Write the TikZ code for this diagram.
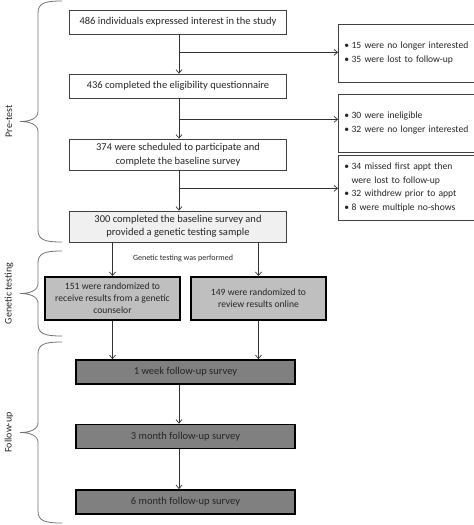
\documentclass[tikz,border=0pt]{standalone}
\usepackage{fontspec}
\setmainfont{Carlito}
\usetikzlibrary{arrows.meta,calc,positioning}

\begin{document}
\begin{tikzpicture}[
    x=1pt, y=-1pt,
    >={Straight Barb[length=3.5pt,width=6pt]},
    font=\fontsize{10.5}{13.5}\selectfont,
    flow/.style={draw=black!80,line width=0.7pt,->},
    stagebox/.style={draw=black!75,line width=0.7pt,minimum width=217pt,
        align=center,inner sep=2pt,text=black!85},
    exitbox/.style={draw=black!75,line width=0.7pt,anchor=west,minimum height=58pt,
        text width=140pt,inner xsep=6pt,align=left,text=black!85,
        font=\fontsize{9.6}{13.5}\selectfont},
    armbox/.style={draw=black,line width=2pt,fill=black!25,minimum width=135pt,
        minimum height=43pt,align=center,inner sep=2pt,text=black!85,
        font=\fontsize{9.6}{12}\selectfont},
    surveybox/.style={draw=black,line width=1.8pt,fill=black!50,minimum width=219pt,
        minimum height=24pt,text=black!85},
    stagebrace/.style={draw=black!55,line width=0.8pt},
    stagelabel/.style={rotate=90,text=black!85,font=\fontsize{10}{12}\selectfont}
]

\useasboundingbox (0,0) rectangle (474,525);
\clip (0,0) rectangle (474,525);

% spine of the main column
\coordinate (spine) at (179,0);

% ===== Pre-test =====
\node[stagebox,minimum height=24pt] (interest) at (178,22)
    {486 individuals expressed interest in the study};
\node[stagebox,minimum height=24pt] (eligible) at (178,86)
    {436 completed the eligibility questionnaire};
\node[stagebox,minimum height=31pt] (scheduled) at (178,154.5)
    {374 were scheduled to participate and\\complete the baseline survey};
\node[stagebox,minimum height=31pt,fill=black!6] (sample) at (178,226.5)
    {300 completed the baseline survey and\\provided a genetic testing sample};

% exclusions
\node[exitbox] (dropA) at (338,53)
    {\begin{tabular}{@{}l@{\hspace{2.5pt}}l@{}}
     \textbullet & 15 were no longer interested\\
     \textbullet & 35 were lost to follow-up
     \end{tabular}};
\node[exitbox] (dropB) at (338,123)
    {\begin{tabular}{@{}l@{\hspace{2.5pt}}l@{}}
     \textbullet & 30 were ineligible\\
     \textbullet & 32 were no longer interested
     \end{tabular}};
\node[exitbox,minimum height=65pt] (dropC) at (338,187.5)
    {\begin{tabular}{@{}l@{\hspace{2.5pt}}l@{}}
     \textbullet & 34 missed first appt then\\
                 & were lost to follow-up\\
     \textbullet & 32 withdrew prior to appt\\
     \textbullet & 8 were multiple no-shows
     \end{tabular}};

% ===== Genetic testing =====
\node[font=\fontsize{8}{9}\selectfont,text=black!85] (performed) at (183,258)
    {Genetic testing was performed};
\node[armbox] (counselor) at (112.5,298.5)
    {151 were randomized to\\receive results from a genetic\\counselor};
\node[armbox] (online) at (258.5,298.5)
    {149 were randomized to\\review results online};

% ===== Follow-up =====
\node[surveybox] (week1) at (185.5,372) {1 week follow-up survey};
\node[surveybox] (month3) at (185.5,436.5) {3 month follow-up survey};
\node[surveybox] (month6) at (185.5,502) {6 month follow-up survey};

% ===== Connectors =====
\draw[flow] (interest.south -| spine) -- (eligible.north -| spine);
\draw[flow] (eligible.south -| spine) -- (scheduled.north -| spine);
\draw[flow] (scheduled.south -| spine) -- (sample.north -| spine);

\coordinate (splitA) at ($(interest.south -| spine)+(0,18)$);
\coordinate (splitB) at ($(eligible.south -| spine)+(0,21)$);
\coordinate (splitC) at ($(scheduled.south -| spine)+(0,18)$);
\draw[flow] (splitA) -- (splitA -| dropA.west);
\draw[flow] (splitB) -- (splitB -| dropB.west);
\draw[flow] (splitC) -- (splitC -| dropC.west);

\draw[flow] (counselor.north |- sample.south) -- (counselor.north);
\draw[flow] (online.north |- sample.south) -- (online.north);
\draw[flow] (counselor.south) -- (counselor.south |- week1.north);
\draw[flow] (online.south) -- (online.south |- week1.north);

\draw[flow] (week1.south -| spine) -- (month3.north -| spine);
\draw[flow] (month3.south -| spine) -- (month6.north -| spine);

% ===== Stage braces =====
\foreach \btop/\bbot/\bname [count=\i] in
    {1/242/Pre-test, 251/336/Genetic testing, 342/523/Follow-up}
{
    \pgfmathsetmacro\bmid{(\btop+\bbot)/2}
    \draw[stagebrace]
        (62,\btop) .. controls (45,\btop) and (38,\btop+2) .. (38,\btop+12)
        -- (38,\bmid-10) .. controls (38,\bmid-3) and (30,\bmid) .. (20,\bmid)
        .. controls (30,\bmid) and (38,\bmid+3) .. (38,\bmid+10)
        -- (38,\bbot-12) .. controls (38,\bbot-2) and (45,\bbot) .. (62,\bbot);
    \node[stagelabel] (stage\i) at (9,\bmid) {\bname};
}

\end{tikzpicture}
\end{document}
